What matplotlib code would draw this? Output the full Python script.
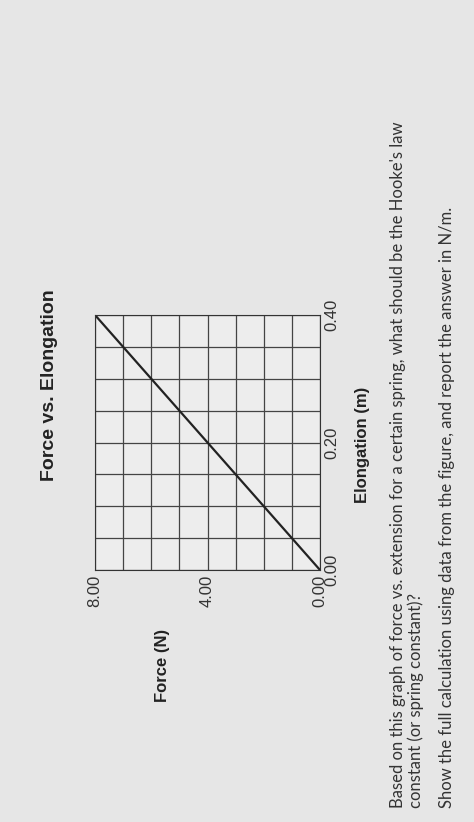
import matplotlib
matplotlib.use("Agg")
import matplotlib.pyplot as plt
import numpy as np

elong = [0.00, 0.40]
force = [0.00, 8.00]
force_ticks = [0.0, 4.0, 8.0]
elong_ticks = [0.0, 0.2, 0.4]

fig = plt.figure(figsize=(4.74, 8.22), dpi=100)
fig.patch.set_facecolor("#e6e6e6")
W, H = 474, 822
ax = fig.add_axes([95/W, 1-570/H, 225/W, 255/H])
ax.set_facecolor("#ededed")
ax.plot(force, elong, color="#222222", lw=1.6)
ax.set_xlim(8, 0)
ax.set_ylim(0, 0.4)
ax.set_xticks(force_ticks)
ax.set_xticks(np.arange(0, 8.01, 1), minor=True)
ax.set_yticks(elong_ticks)
ax.set_yticks(np.arange(0, 0.401, 0.05), minor=True)
ax.grid(True, which="both", color="#444444", lw=0.9)
ax.set_xticklabels([f"{v:.2f}" for v in force_ticks], rotation=90, fontsize=12,
                   color="#333", family="Liberation Sans")
ax.yaxis.tick_right()
ax.set_yticklabels([f"{v:.2f}" for v in elong_ticks], rotation=90, fontsize=12,
                   color="#333", va="center", family="Liberation Sans")
ax.tick_params(which="both", length=0)
for s in ax.spines.values():
    s.set_color("#333")
fig.text(50/W, 1-385/H, "Force vs. Elongation", rotation=90, fontsize=14, fontweight="bold",
         ha="center", va="center", color="#222", family="Liberation Sans")
fig.text(362/W, 1-445/H, "Elongation (m)", rotation=90, fontsize=12, fontweight="bold",
         ha="center", va="center", color="#222", family="Liberation Sans")
fig.text(162/W, 1-665/H, "Force (N)", rotation=90, fontsize=12, fontweight="bold",
         ha="center", va="center", color="#222", family="Liberation Sans")
fig.text(398/W, 1-808/H, "Based on this graph of force vs. extension for a certain spring, what should be the Hooke's law",
         rotation=90, fontsize=12, family="Lato", ha="center", va="bottom", color="#333")
fig.text(416/W, 1-808/H, "constant (or spring constant)?",
         rotation=90, fontsize=12, family="Lato", ha="center", va="bottom", color="#333")
fig.text(447/W, 1-808/H, "Show the full calculation using data from the figure, and report the answer in N/m.",
         rotation=90, fontsize=12, family="Lato", ha="center", va="bottom", color="#333")
fig.savefig("out.png", dpi=100, facecolor=fig.get_facecolor())
